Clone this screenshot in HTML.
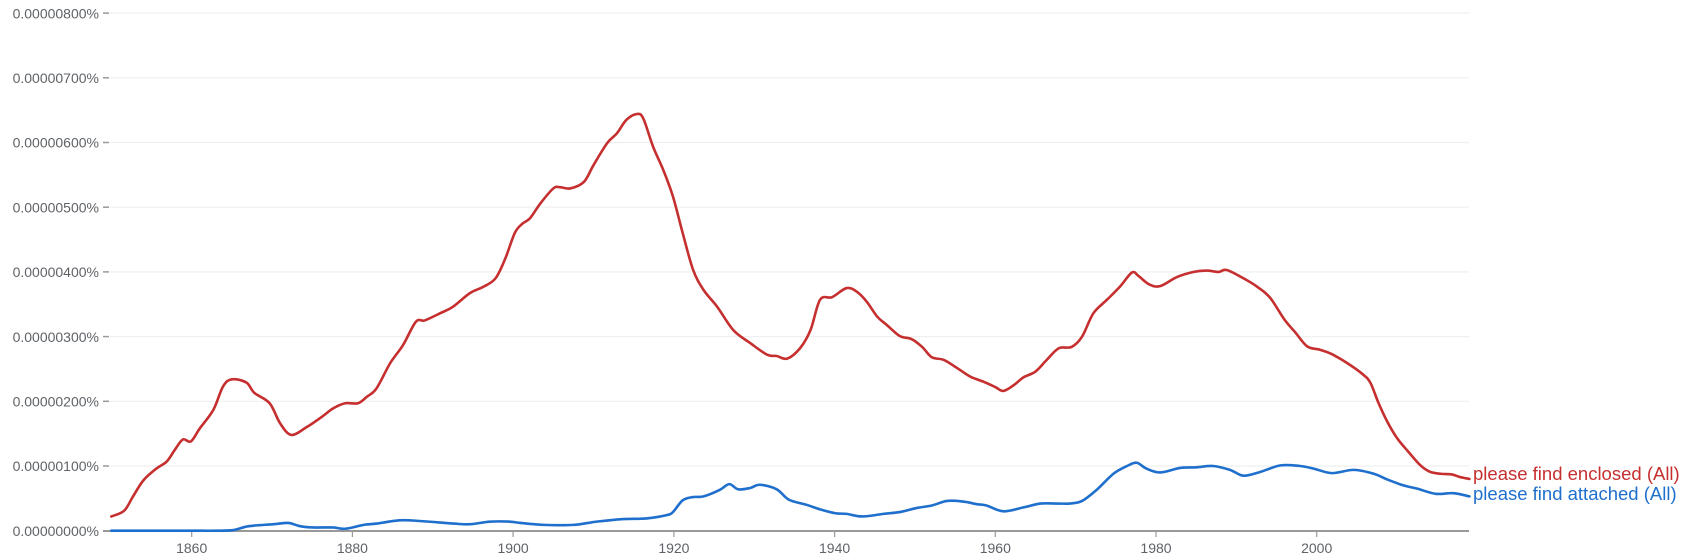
<!DOCTYPE html>
<html>
<head>
<meta charset="utf-8">
<style>
  html, body { margin: 0; padding: 0; background: #ffffff; }
  body { width: 1688px; height: 558px; overflow: hidden; }
  svg { display: block; }
  .yl { font-family: "Liberation Sans", Arial, sans-serif; font-size: 14px; fill: #5f6368; }
  .xl { font-family: "Liberation Sans", Arial, sans-serif; font-size: 14px; fill: #5f6368; }
  .lg { font-family: "Liberation Sans", Arial, sans-serif; font-size: 18.5px; }
</style>
</head>
<body>
<svg width="1688" height="558" viewBox="0 0 1688 558" xmlns="http://www.w3.org/2000/svg">
  <!-- gridlines -->
  <g stroke="#efefef" stroke-width="1.2">
    <line x1="110" y1="13.1" x2="1469" y2="13.1"/>
    <line x1="110" y1="77.8" x2="1469" y2="77.8"/>
    <line x1="110" y1="142.5" x2="1469" y2="142.5"/>
    <line x1="110" y1="207.2" x2="1469" y2="207.2"/>
    <line x1="110" y1="271.9" x2="1469" y2="271.9"/>
    <line x1="110" y1="336.6" x2="1469" y2="336.6"/>
    <line x1="110" y1="401.3" x2="1469" y2="401.3"/>
    <line x1="110" y1="466.0" x2="1469" y2="466.0"/>
  </g>
  <!-- y tick dashes -->
  <g stroke="#999" stroke-width="1.5">
    <line x1="103" y1="13.1" x2="109" y2="13.1"/>
    <line x1="103" y1="77.8" x2="109" y2="77.8"/>
    <line x1="103" y1="142.5" x2="109" y2="142.5"/>
    <line x1="103" y1="207.2" x2="109" y2="207.2"/>
    <line x1="103" y1="271.9" x2="109" y2="271.9"/>
    <line x1="103" y1="336.6" x2="109" y2="336.6"/>
    <line x1="103" y1="401.3" x2="109" y2="401.3"/>
    <line x1="103" y1="466.0" x2="109" y2="466.0"/>
  </g>
  <!-- y labels -->
  <g class="yl" text-anchor="end">
    <text x="99" y="18.3">0.00000800%</text>
    <text x="99" y="83">0.00000700%</text>
    <text x="99" y="147.7">0.00000600%</text>
    <text x="99" y="212.4">0.00000500%</text>
    <text x="99" y="277.1">0.00000400%</text>
    <text x="99" y="341.8">0.00000300%</text>
    <text x="99" y="406.5">0.00000200%</text>
    <text x="99" y="471.2">0.00000100%</text>
    <text x="99" y="535.9">0.00000000%</text>
  </g>
  <!-- x axis -->
  <line x1="103" y1="531" x2="1469" y2="531" stroke="#999" stroke-width="2"/>
  <g stroke="#999" stroke-width="1.2">
    <line x1="191.7" y1="531" x2="191.7" y2="537"/>
    <line x1="352.4" y1="531" x2="352.4" y2="537"/>
    <line x1="513.1" y1="531" x2="513.1" y2="537"/>
    <line x1="673.9" y1="531" x2="673.9" y2="537"/>
    <line x1="834.6" y1="531" x2="834.6" y2="537"/>
    <line x1="995.3" y1="531" x2="995.3" y2="537"/>
    <line x1="1156.0" y1="531" x2="1156.0" y2="537"/>
    <line x1="1316.7" y1="531" x2="1316.7" y2="537"/>
  </g>
  <g class="xl" text-anchor="middle">
    <text x="191.7" y="553">1860</text>
    <text x="352.4" y="553">1880</text>
    <text x="513.1" y="553">1900</text>
    <text x="673.9" y="553">1920</text>
    <text x="834.6" y="553">1940</text>
    <text x="995.3" y="553">1960</text>
    <text x="1156.0" y="553">1980</text>
    <text x="1316.7" y="553">2000</text>
  </g>

  <!-- series -->
  <g transform="translate(191.7 530.7) scale(8.036 -64.7)" fill="none" stroke-linejoin="round" stroke-linecap="round">
    <polyline class="s" vector-effect="non-scaling-stroke" stroke="#1f6fcc" stroke-width="2.6" points="
-10,0 -5,0 0,0 3,0 5.2,0.01 7.1,0.07 10.2,0.10 12.0,0.12 13.5,0.07 15.1,0.05 17.6,0.05 19.1,0.03 21.4,0.09 23.0,0.11 25.9,0.16 28.4,0.15 32.6,0.11 34.6,0.10 37.1,0.14 39.6,0.14 40.9,0.12 43.8,0.09 47.5,0.09 50.4,0.14 53.7,0.18 56.6,0.19 59.1,0.24 59.9,0.29 61.1,0.47 62.4,0.52 63.7,0.53 65.7,0.63 66.9,0.72 68.0,0.64 69.5,0.66 70.7,0.71 72.8,0.64 74.3,0.48 76.5,0.40 78.2,0.33 80.1,0.27 81.5,0.26 83.4,0.22 86.1,0.26 88.2,0.29 90.2,0.35 92.1,0.39 94.0,0.46 96.0,0.45 97.7,0.41 98.9,0.39 101.0,0.30 103.5,0.36 105.6,0.42 107.7,0.42 109.3,0.42 110.8,0.46 112.6,0.63 114.7,0.88 116.4,1.00 117.6,1.05 118.8,0.96 120.5,0.90 123.0,0.97 125.0,0.98 127.1,1.00 129.2,0.94 130.9,0.85 133.0,0.91 135.5,1.01 137.9,1.00 139.6,0.96 141.9,0.89 144.6,0.94 147.1,0.88 148.8,0.79 150.8,0.70 152.5,0.65 154.8,0.57 157.0,0.58 159,0.53"/>
    <polyline class="s" vector-effect="non-scaling-stroke" stroke="#c62f2f" stroke-width="2.6" points="
-10,0.22 -8.4,0.31 -7.3,0.53 -6.0,0.78 -4.4,0.96 -3.1,1.07 -2.1,1.25 -1.1,1.41 -0.1,1.38 1.0,1.58 2.7,1.87 3.9,2.23 5.0,2.34 6.8,2.29 7.8,2.13 9.7,1.97 11.0,1.66 12.4,1.48 14.3,1.60 16.2,1.76 17.6,1.89 19.1,1.97 20.7,1.97 21.8,2.07 23.0,2.20 24.7,2.59 26.3,2.87 27.9,3.23 29.0,3.25 30.9,3.36 32.5,3.46 34.6,3.67 36.3,3.77 37.8,3.90 39.0,4.20 40.2,4.60 41.1,4.74 42.1,4.83 43.4,5.06 45.0,5.29 45.8,5.31 47.1,5.29 48.8,5.39 50.0,5.65 51.7,5.99 52.9,6.14 54.1,6.35 55.4,6.44 56.2,6.37 57.4,5.94 58.7,5.57 59.9,5.16 61.1,4.60 62.4,4.03 63.7,3.72 65.4,3.46 67.4,3.10 69.5,2.90 71.6,2.72 72.8,2.70 74.1,2.66 75.7,2.82 77.0,3.10 78.2,3.57 79.7,3.61 81.5,3.75 82.8,3.69 84.0,3.54 85.3,3.31 86.5,3.18 88.1,3.01 89.6,2.96 90.9,2.84 92.1,2.68 93.6,2.64 95.3,2.51 96.9,2.38 98.6,2.30 100.0,2.22 101.0,2.16 102.3,2.25 103.5,2.37 105.0,2.46 106.4,2.64 107.9,2.82 109.5,2.84 110.8,3.00 112.2,3.36 113.9,3.57 115.5,3.77 117.0,3.99 117.8,3.94 119.1,3.81 120.5,3.78 122.6,3.92 124.7,4.00 126.3,4.02 127.8,4.00 128.8,4.03 130.9,3.90 132.6,3.77 134.2,3.60 136.0,3.26 137.3,3.07 138.8,2.85 140.3,2.80 141.7,2.74 143.8,2.59 145.8,2.41 146.7,2.28 147.7,1.97 148.8,1.68 150.0,1.43 151.4,1.22 152.9,1.01 154.1,0.91 155.4,0.88 156.8,0.87 157.8,0.83 159,0.80"/>
  </g>

  <!-- legend labels -->
  <text class="lg" x="1473" y="480" fill="#c62f2f">please find enclosed (All)</text>
  <text class="lg" x="1473" y="500" fill="#1f6fcc">please find attached (All)</text>
</svg>
<script>
(function(){
  try {
    var NS = "http://www.w3.org/2000/svg";
    var pls = document.querySelectorAll("polyline.s");
    for (var k = 0; k < pls.length; k++) {
      var pl = pls[k];
      var raw = pl.getAttribute("points").trim().split(/\s+/);
      var p = raw.map(function(s){ var a = s.split(","); return [parseFloat(a[0]), parseFloat(a[1])]; });
      var d = "M" + p[0][0] + "," + p[0][1];
      for (var i = 0; i < p.length - 1; i++) {
        var p0 = p[i > 0 ? i - 1 : i], p1 = p[i], p2 = p[i + 1], p3 = p[i + 2 < p.length ? i + 2 : i + 1];
        var c1x = p1[0] + (p2[0] - p0[0]) / 6, c1y = p1[1] + (p2[1] - p0[1]) / 6;
        var c2x = p2[0] - (p3[0] - p1[0]) / 6, c2y = p2[1] - (p3[1] - p1[1]) / 6;
        d += " C" + c1x.toFixed(3) + "," + c1y.toFixed(4) + " " + c2x.toFixed(3) + "," + c2y.toFixed(4) + " " + p2[0] + "," + p2[1];
      }
      var path = document.createElementNS(NS, "path");
      path.setAttribute("d", d);
      path.setAttribute("vector-effect", "non-scaling-stroke");
      path.setAttribute("stroke", pl.getAttribute("stroke"));
      path.setAttribute("stroke-width", pl.getAttribute("stroke-width"));
      path.setAttribute("fill", "none");
      pl.parentNode.replaceChild(path, pl);
    }
  } catch (e) {}
})();
</script>
</body>
</html>
